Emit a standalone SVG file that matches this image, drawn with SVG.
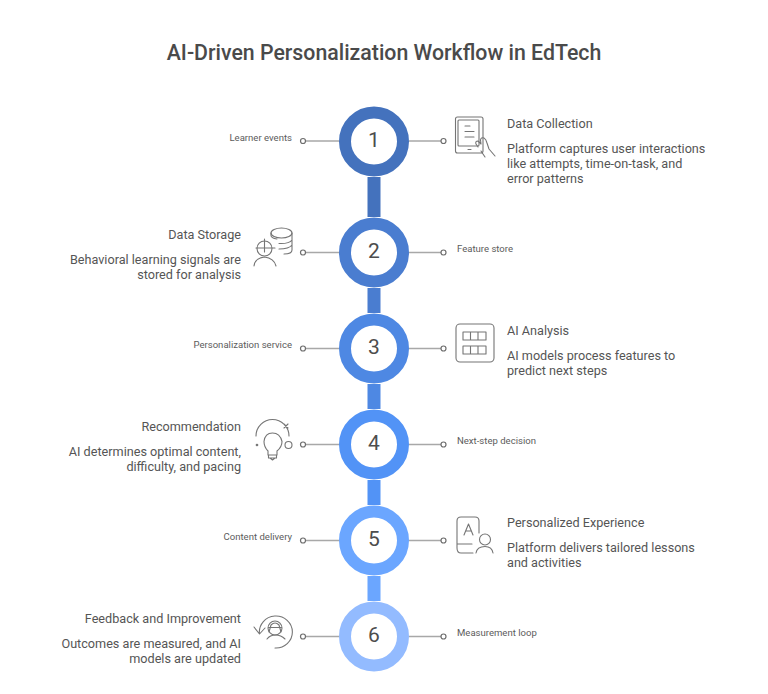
<svg xmlns="http://www.w3.org/2000/svg" width="768" height="694" viewBox="0 0 768 694">
<style>
text{font-family:Roboto,"Liberation Sans",sans-serif;fill:#555}
.t{font-size:21.300px;font-weight:500;text-anchor:middle;fill:#4a4a4a}
.h{font-size:12.650px}
.b{font-size:12.650px}
.s{font-size:9.550px;fill:#5c5c5c}
.e{text-anchor:end}
.n{font-size:21px;text-anchor:middle;fill:#4d4d4d}
.ring{fill:#fff;stroke-width:12}
.ln{stroke:#a8a8a8;stroke-width:1.300;fill:none}
.dot{fill:#fff;stroke:#6e6e6e;stroke-width:1.200}
.ic{fill:none;stroke:#757575;stroke-width:1.100;stroke-linecap:round;stroke-linejoin:round}
</style>
<rect width="768" height="694" fill="#fff"/>
<text class="t" x="384" y="60">AI-Driven Personalization Workflow in EdTech</text>
<g id="connectors">
<rect x="367.500" y="177" width="13" height="40" fill="#4472bd"/>
<rect x="367.500" y="288" width="13" height="25" fill="#4a7dd0"/>
<rect x="367.500" y="384" width="13" height="25" fill="#4e88e3"/>
<rect x="367.500" y="480" width="13" height="25" fill="#5293f6"/>
<rect x="367.500" y="576" width="13" height="25" fill="#6ba6ff"/>
<path class="ln" d="M306 141H339M409 141H441M306 252.500H339M409 252.500H441M306 348.500H339M409 348.500H441M306 444.500H339M409 444.500H441M306 540.500H339M409 540.500H441M306 636.500H339M409 636.500H441"/>
<g class="dot"><circle cx="303" cy="141" r="2.500"/><circle cx="443.500" cy="141" r="2.500"/><circle cx="303" cy="252.500" r="2.500"/><circle cx="443.500" cy="252.500" r="2.500"/><circle cx="303" cy="348.500" r="2.500"/><circle cx="443.500" cy="348.500" r="2.500"/><circle cx="303" cy="444.500" r="2.500"/><circle cx="443.500" cy="444.500" r="2.500"/><circle cx="303" cy="540.500" r="2.500"/><circle cx="443.500" cy="540.500" r="2.500"/><circle cx="303" cy="636.500" r="2.500"/><circle cx="443.500" cy="636.500" r="2.500"/></g>
</g>
<g id="node-1">
<circle class="ring" cx="374" cy="141.500" r="29" stroke="#4472bd"/><text class="n" x="374" y="147">1</text>
<text class="s e" x="292" y="140.500">Learner events</text>
<text class="h" x="507" y="128">Data Collection</text>
<text class="b" x="507" y="153">Platform captures user interactions</text>
<text class="b" x="507" y="168">like attempts, time-on-task, and</text>
<text class="b" x="507" y="183">error patterns</text>
<g class="ic"><rect x="455.500" y="117" width="27.500" height="36" rx="2"/><rect x="458" y="120" width="21" height="26" rx="1"/><path d="M465 126H470M465 131.500H474M465 137H474M468 149.500H471M478 147L476 144Q475 141 478 141L481 144L480.500 140Q481 137 484 138Q486 139 487 143L489 149L495 156M481 151L485 157"/></g>
</g>
<g id="node-2">
<circle class="ring" cx="374" cy="252.500" r="29" stroke="#4a7dd0"/><text class="n" x="374" y="258">2</text>
<text class="h e" x="241" y="239">Data Storage</text>
<text class="b e" x="241" y="264">Behavioral learning signals are</text>
<text class="b e" x="241" y="279">stored for analysis</text>
<text class="s" x="457" y="251.500">Feature store</text>
<g class="ic"><ellipse cx="281.500" cy="233" rx="10.500" ry="5"/><path d="M271 233V235.500Q271 238 277 239M292 233V250Q292 254 284 254M279 243.500Q289 244 292 240M279 249Q289 249 292 245"/><circle cx="264.500" cy="248.500" r="7.500"/><path d="M256 248H275M264.500 239V252M254 266Q255 258 264.500 257Q274 258 276 266"/></g>
</g>
<g id="node-3">
<circle class="ring" cx="374" cy="348.500" r="29" stroke="#4e88e3"/><text class="n" x="374" y="354">3</text>
<text class="s e" x="292" y="347.500">Personalization service</text>
<text class="h" x="507" y="335">AI Analysis</text>
<text class="b" x="507" y="360">AI models process features to</text>
<text class="b" x="507" y="375">predict next steps</text>
<g class="ic"><rect x="456" y="324" width="38" height="38" rx="4"/><path d="M463 332H486V340H463ZM470.500 332V340M478 332V340M463 346H486V354H463ZM470.500 346V354M478 346V354"/></g>
</g>
<g id="node-4">
<circle class="ring" cx="374" cy="444.500" r="29" stroke="#5293f6"/><text class="n" x="374" y="450">4</text>
<text class="h e" x="241" y="431">Recommendation</text>
<text class="b e" x="241" y="456">AI determines optimal content,</text>
<text class="b e" x="241" y="471">difficulty, and pacing</text>
<text class="s" x="457" y="443.500">Next-step decision</text>
<g class="ic"><path d="M256 436A16.500 16.500 0 0 1 289 436M284 424L288 428M288 424L284 428"/><circle cx="288.500" cy="445" r="3.500"/><circle cx="257" cy="445" r="0.800" fill="#757575"/><path d="M268 451Q264 447 264 441.500Q265 433 272.500 433Q280 433 282 441.500Q282 447 277 451V455H268ZM268.500 455V458H276.500V455M270 458L272.500 460L275 458"/></g>
</g>
<g id="node-5">
<circle class="ring" cx="374" cy="540.500" r="29" stroke="#6ba6ff"/><text class="n" x="374" y="546">5</text>
<text class="s e" x="292" y="539.500">Content delivery</text>
<text class="h" x="507" y="527">Personalized Experience</text>
<text class="b" x="507" y="552">Platform delivers tailored lessons</text>
<text class="b" x="507" y="567">and activities</text>
<g class="ic"><path d="M457 548V521Q457 517 461 517H475Q479 517 479 521V533M457 548Q457 553 461 553H473M457 544H472M464 535L468.500 524L473 535M465.500 531H471.500"/><circle cx="485" cy="539.500" r="5.500"/><path d="M476 553Q477 546.500 485 546.500Q492 546.500 493 553"/></g>
</g>
<g id="node-6">
<circle class="ring" cx="374" cy="636.500" r="29" stroke="#93bbff"/><text class="n" x="374" y="642">6</text>
<text class="h e" x="241" y="623">Feedback and Improvement</text>
<text class="b e" x="241" y="648">Outcomes are measured, and AI</text>
<text class="b e" x="241" y="663">models are updated</text>
<text class="s" x="457" y="635.500">Measurement loop</text>
<g class="ic"><path d="M259.500 634A16.500 16 0 1 1 275 648M254 627L259.500 634L265 628"/><circle cx="275" cy="628" r="7"/><path d="M269 632L271 625Q275 621 279 625L281 632M268.500 627.500H281.500M267 639Q270 635 275.500 635Q281 635 285 639"/></g>
</g>
</svg>
